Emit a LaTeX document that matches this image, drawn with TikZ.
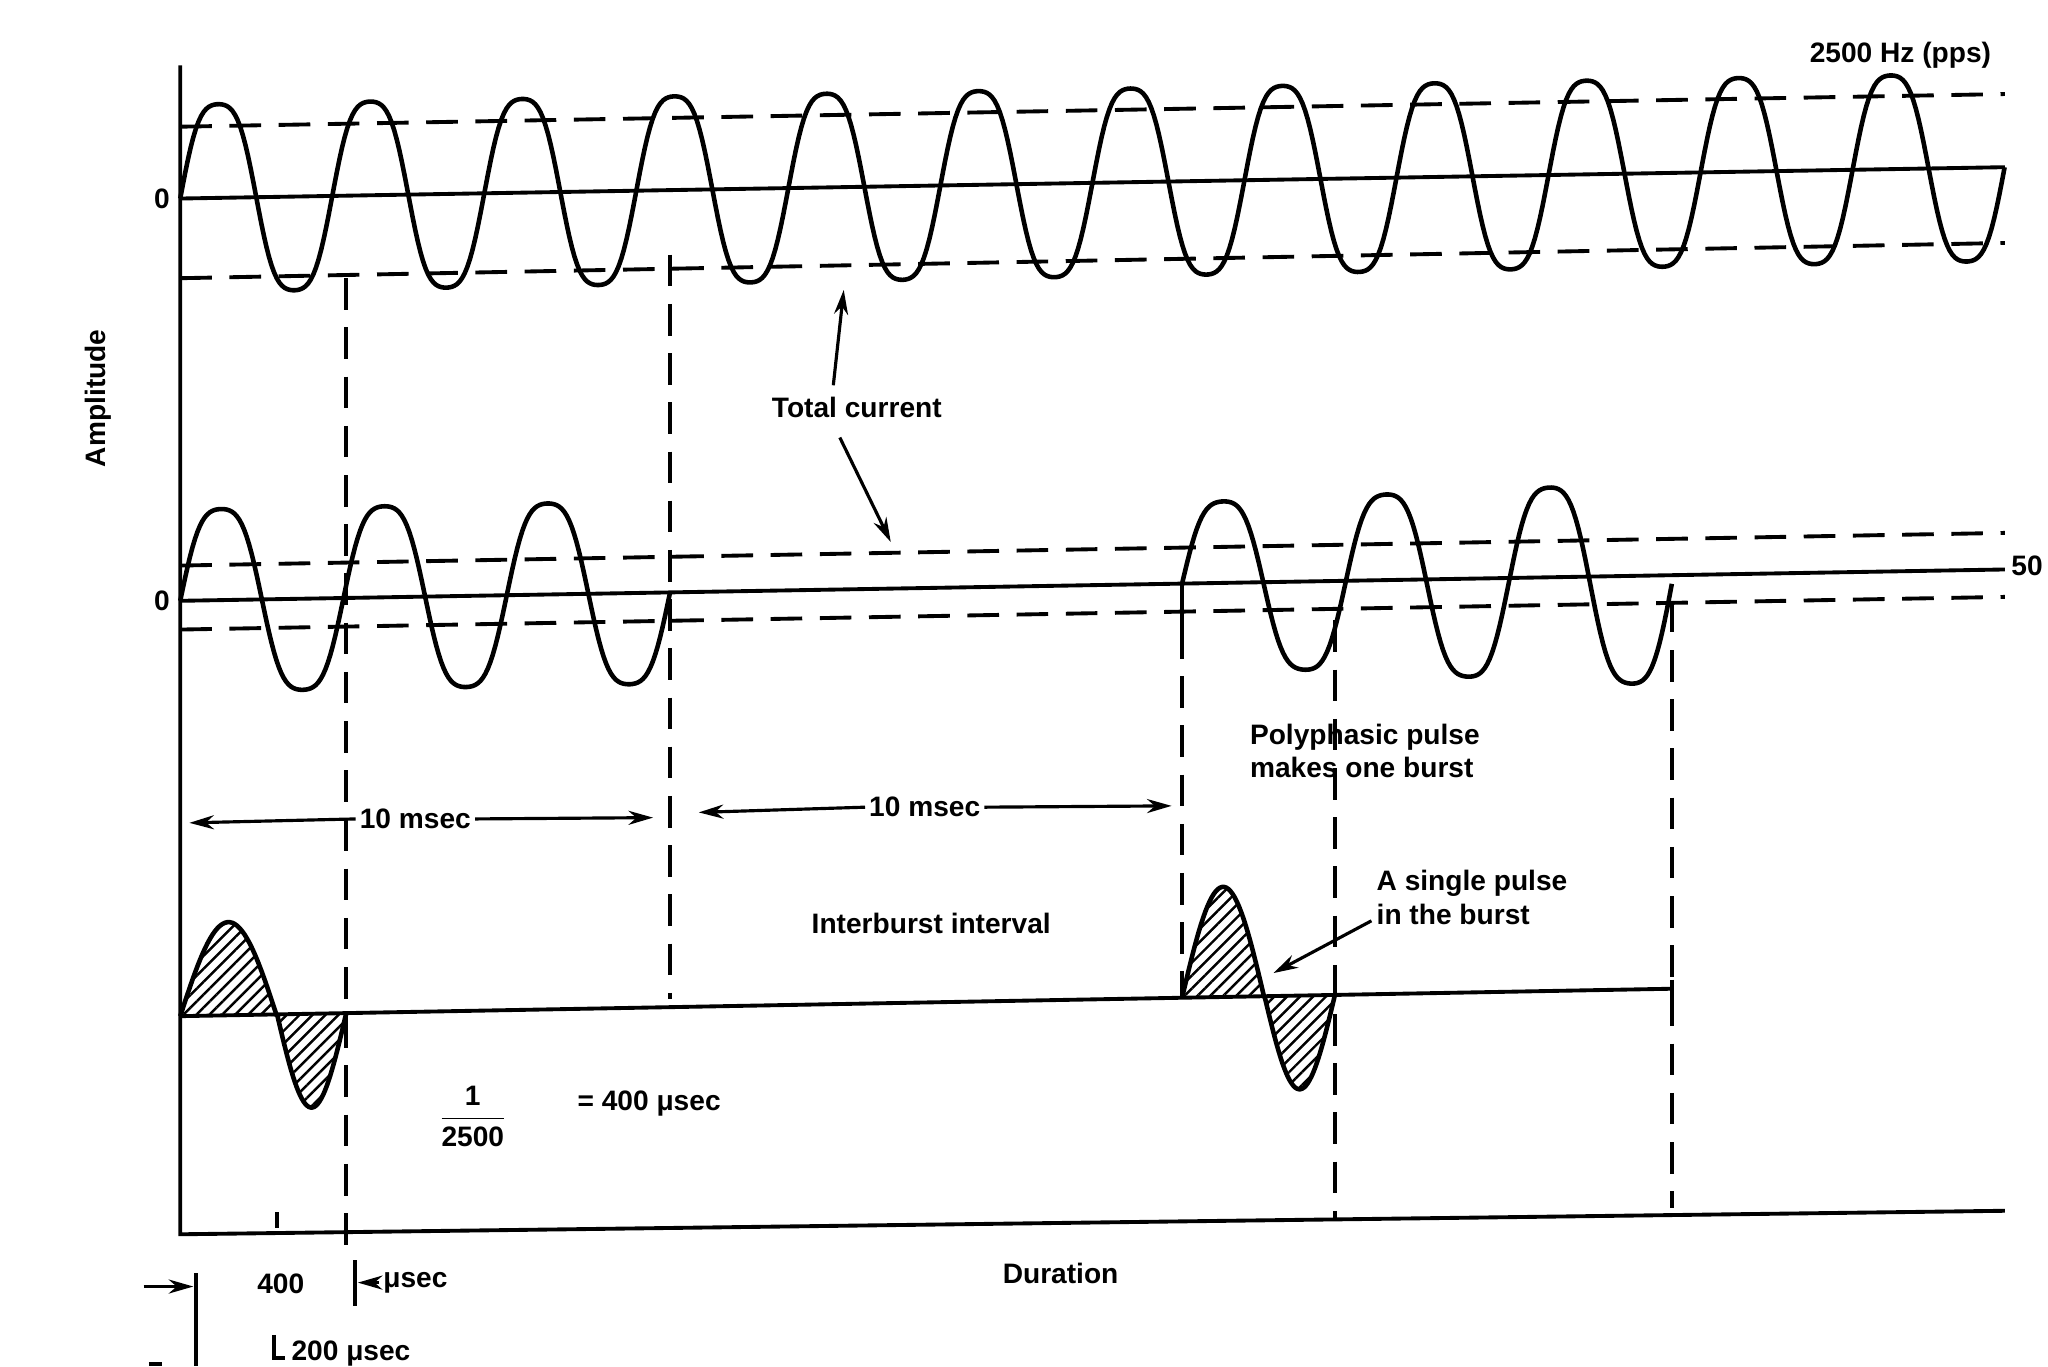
\documentclass[tikz,border=0pt]{standalone}
\usepackage{fontspec}
\setmainfont{Liberation Sans}
\usetikzlibrary{patterns.meta,arrows.meta}
\begin{document}
\begin{tikzpicture}[x=0.01306cm,y=-0.01306cm,
  lbl/.style={font=\fontsize{8}{9.5}\selectfont\bfseries,inner sep=1pt},
  wave/.style={line width=1.3pt,line join=round},
  dsh/.style={line width=1.1pt,dash pattern=on 9pt off 5pt},
  sol/.style={line width=1.1pt},
  arr/.style={line width=0.9pt,-{Stealth[length=7pt,width=4pt]}},
  hatch/.style={pattern={Lines[angle=45,distance=2.6pt,line width=0.7pt]}}]
\useasboundingbox (0,0) rectangle (1568,1046);
% axes
\coordinate (o) at (138,50);
\coordinate (ob) at (138,945);
\coordinate (ae) at (1535,927);
\draw[sol] (o) -- (ob) -- (ae);
\draw[sol] (212,940) -- (212,928);
% top wave
\draw[sol] (138,152) -- (1535,128);
\draw[dsh] (138,97) -- (1535,72);
\draw[dsh] (138,213) -- (1535,186);
\draw[wave] plot[domain=0:4320,samples=700] ({138+\x/360*116.4},{152-0.00556*\x-72*(sin(\x)+sin(3*\x)/12)/0.92});
% middle
\draw[sol] (138,460) -- (1535,436);
\draw[dsh] (138,433) -- (1535,408);
\draw[dsh] (138,482) -- (1535,457);
\draw[wave] plot[domain=0:1080,samples=200] ({138+\x/360*125},{460-0.0059*\x-70*(sin(\x)+sin(3*\x)/12)/0.92});
\draw[wave] plot[domain=0:1080,samples=200] ({905+\x/360*125},{447-(62+\x/67.5)*(sin(\x)+sin(3*\x)/12)/0.92});
\draw[wave] (905,447) -- (905,480);
% bottom baseline and pulses
\draw[sol] (138,778) -- (1280,757);
\draw[sol] (1280,750) -- (1280,764);
\fill[hatch] plot[domain=0:180,samples=40] ({138+\x/180*74},{778-72*sin(\x)}) -- cycle;
\draw[wave] plot[domain=0:180,samples=40] ({138+\x/180*74},{778-72*sin(\x)});
\fill[hatch] plot[domain=0:180,samples=40] ({212+\x/180*53},{776+72*sin(\x)}) -- cycle;
\draw[wave] plot[domain=0:180,samples=40] ({212+\x/180*53},{776+72*sin(\x)});
\fill[hatch] plot[domain=0:180,samples=40] ({905+\x/180*63},{764-85*sin(\x)}) -- cycle;
\draw[wave] plot[domain=0:180,samples=40] ({905+\x/180*63},{764-85*sin(\x)});
\fill[hatch] plot[domain=0:180,samples=40] ({968+\x/180*54},{762+72*sin(\x)}) -- cycle;
\draw[wave] plot[domain=0:180,samples=40] ({968+\x/180*54},{762+72*sin(\x)});
% vertical dashed
\draw[dsh] (265,213) -- (265,960);
\draw[dsh] (513,195) -- (513,765);
\draw[dsh] (905,480) -- (905,765);
\draw[dsh] (1022,475) -- (1022,935);
\draw[dsh] (1280,460) -- (1280,925);
% labels
\node[lbl] (z1) at (124,152) {0};
\node[lbl] (z2) at (124,460) {0};
\node[lbl] (f50) at (1552,433) {50};
\node[lbl,rotate=90] (amp) at (75,305) {Amplitude};
\node[lbl] (hz) at (1455,42) {2500 Hz (pps)};
\node[lbl] (tc) at (656,312) {Total current};
\coordinate (tcu) at (646,222);
\coordinate (tcd) at (682,415);
\draw[arr] (638,295) -- (tcu);
\draw[arr] (643,335) -- (tcd);
\node[lbl] (m1) at (318,627) {10 msec};
\coordinate (m1l) at (145,630); \coordinate (m1r) at (500,626);
\draw[arr] (m1.west) -- (m1l);
\draw[arr] (m1.east) -- (m1r);
\node[lbl] (m2) at (708,618) {10 msec};
\coordinate (m2l) at (535,622); \coordinate (m2r) at (897,617);
\draw[arr] (m2.west) -- (m2l);
\draw[arr] (m2.east) -- (m2r);
\node[lbl] (ib) at (713,707) {Interburst interval};
\node[lbl,align=left] (pp) at (1045,575) {Polyphasic pulse\\makes one burst};
\node[lbl,align=left] (sp) at (1127,687) {A single pulse\\in the burst};
\coordinate (spt) at (975,745);
\draw[arr] (1050,705) -- (spt);
\node[lbl] (fr) at (362,855) {$\displaystyle\frac{\mbox{\bfseries 1}}{\mbox{\bfseries 2500}}$};
\node[lbl] (eq) at (497,845) {= 400 μsec};
\node[lbl] (du) at (812,975) {Duration};
\node[lbl] (n4) at (215,983) {400};
\node[lbl] (us) at (318,982) {μsec};
\draw[sol] (272,965) -- (272,1000);
\coordinate (b1) at (274,982);
\draw[arr] (us.west) -- (b1);
\draw[sol] (150,975) -- (150,1046);
\coordinate (b2) at (148,985);
\draw[arr] (110,985) -- (b2);
\draw[sol] (210,1022) -- (210,1040) -- (218,1040);
\node[lbl,anchor=west] (n2) at (220,1036) {200 μsec};
\draw[sol] (114,1044) -- (124,1044);
\end{tikzpicture}
\end{document}
